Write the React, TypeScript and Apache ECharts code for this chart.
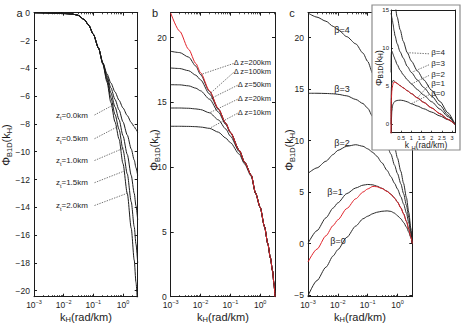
import React, { useEffect, useRef } from 'react';
import * as echarts from 'echarts';

// ---------------- Panel a : z_t family ----------------
const kA = [0.001, 0.002, 0.005, 0.01, 0.02, 0.03, 0.05, 0.07, 0.1, 0.15, 0.21, 0.29, 0.39, 0.54, 0.74, 1.0, 1.4, 1.9, 2.4, 2.75, 3.1416];
const phiZt00 = [0, -0.01, -0.03, -0.06, -0.1, -0.18, -0.5, -0.9, -1.55, -2.55, -3.6, -4.4, -5.05, -5.7, -6.3, -6.85, -7.4, -7.9, -8.2, -8.4, -8.6];
const phiZt05 = [0, -0.01, -0.03, -0.06, -0.1, -0.18, -0.5, -0.9, -1.55, -2.55, -3.62, -4.55, -5.4, -6.24, -7.0, -7.85, -8.8, -9.8, -10.6, -11.15, -11.7];
const phiZt10 = [0, -0.01, -0.03, -0.06, -0.1, -0.18, -0.5, -0.9, -1.55, -2.55, -3.65, -4.7, -5.75, -6.78, -7.7, -8.85, -10.2, -11.7, -13.0, -13.9, -14.9];
const phiZt15 = [0, -0.01, -0.03, -0.06, -0.1, -0.18, -0.5, -0.9, -1.55, -2.55, -3.68, -4.85, -6.1, -7.32, -8.4, -9.85, -11.6, -13.6, -15.4, -16.65, -18.0];
const phiZt20 = [0, -0.01, -0.03, -0.06, -0.1, -0.18, -0.5, -0.9, -1.55, -2.55, -3.7, -5.0, -6.45, -7.86, -9.1, -10.85, -13.0, -15.5, -17.8, -19.4, -21.2];
const ztLabels = ['0.0', '0.5', '1.0', '1.5', '2.0'];
const yTicksA = [0, -2, -4, -6, -8, -10, -12, -14, -16, -18, -20];

// ---------------- Panel b : Δz family ----------------
const kB = [0.001, 0.002, 0.004, 0.007, 0.01, 0.02, 0.04, 0.07, 0.1, 0.2, 0.3, 0.5, 0.7, 1.0, 1.4, 1.8, 2.2, 2.6, 2.9, 3.1416];
const phiRefB = [21.9, 20.5, 19.1, 18.0, 17.3, 15.9, 14.5, 13.4, 12.7, 11.3, 10.4, 9.4, 8.0, 6.9, 5.4, 4.1, 3.0, 2.0, 1.0, 0];
const phiDz200 = [18.95, 18.85, 18.5, 17.8, 17.15, 15.85, 14.5, 13.4, 12.7, 11.3, 10.4, 9.4, 8.0, 6.9, 5.4, 4.1, 3.0, 2.0, 1.0, 0];
const phiDz100 = [17.66, 17.62, 17.45, 17.1, 16.75, 15.65, 14.45, 13.4, 12.7, 11.3, 10.4, 9.4, 8.0, 6.9, 5.4, 4.1, 3.0, 2.0, 1.0, 0];
const phiDz50 = [16.37, 16.36, 16.28, 16.1, 15.9, 15.25, 14.25, 13.3, 12.65, 11.3, 10.4, 9.4, 8.0, 6.9, 5.4, 4.1, 3.0, 2.0, 1.0, 0];
const phiDz20 = [14.57, 14.57, 14.55, 14.5, 14.45, 14.2, 13.65, 12.95, 12.4, 11.2, 10.35, 9.38, 8.0, 6.9, 5.4, 4.1, 3.0, 2.0, 1.0, 0];
const phiDz10 = [13.16, 13.16, 13.15, 13.13, 13.1, 13.0, 12.7, 12.25, 11.9, 11.0, 10.25, 9.3, 7.98, 6.9, 5.4, 4.1, 3.0, 2.0, 1.0, 0];
const dzLabels = ['200', '100', '50', '20', '10'];
const yTicksB = [0, 5, 10, 15, 20];

// ---------------- Panel c : β family ----------------
const kC = [0.001, 0.002, 0.004, 0.007, 0.01, 0.02, 0.04, 0.07, 0.1, 0.15, 0.2, 0.3, 0.45, 0.6, 0.8, 1.0, 1.3, 1.6, 2.0, 2.4, 2.8, 3.1416];
const phiBeta0 = [-5.1, -3.6, -2.3, -1.2, -0.6, 0.6, 1.7, 2.4, 2.65, 2.9, 3.03, 3.13, 3.17, 3.12, 2.95, 2.7, 2.4, 2.05, 1.6, 1.1, 0.6, 0];
const phiBeta1 = [0, 1.25, 2.5, 3.45, 3.95, 4.85, 5.4, 5.67, 5.74, 5.7, 5.58, 5.37, 5.08, 4.8, 4.42, 4.04, 3.47, 2.9, 2.15, 1.4, 0.65, 0];
const phiRefC = [-1.8, -0.55, 0.75, 1.75, 2.3, 3.4, 4.35, 5.0, 5.3, 5.55, 5.52, 5.35, 5.06, 4.78, 4.4, 4.02, 3.45, 2.88, 2.13, 1.38, 0.64, 0];
const phiBeta2 = [6.81, 7.35, 8.0, 8.65, 9.05, 9.45, 9.6, 9.45, 9.2, 8.85, 8.5, 7.85, 7.1, 6.5, 5.85, 5.3, 4.55, 3.85, 2.95, 2.0, 1.0, 0];
const phiBeta3 = [14.6, 14.6, 14.58, 14.55, 14.5, 14.35, 14.0, 13.6, 13.15, 12.3, 11.6, 10.6, 9.5, 8.7, 7.6, 6.8, 5.8, 4.85, 3.7, 2.5, 1.2, 0];
const phiBeta4 = [22.4, 22.0, 21.6, 21.1, 20.8, 20.1, 19.4, 18.5, 17.7, 16.5, 15.6, 14.1, 12.4, 10.9, 9.4, 8.3, 7.0, 5.85, 4.45, 3.0, 1.5, 0];
const betaLabels = ['0', '1', '2', '3', '4'];
const yTicksC = [-5, 0, 5, 10, 15, 20];

// inset ticks
const insetXTicks = [0.5, 1, 1.5, 2, 2.5, 3];
const insetYTicks = [0, 5, 10, 15];

// log axis ticks
const kMajor = [0.001, 0.01, 0.1, 1];
const kMinor = [0.002, 0.003, 0.004, 0.005, 0.006, 0.007, 0.008, 0.009, 0.02, 0.03, 0.04, 0.05, 0.06, 0.07, 0.08, 0.09, 0.2, 0.3, 0.4, 0.5, 0.6, 0.7, 0.8, 0.9, 2, 3];

const FONT = '"Liberation Sans", Arial, Helvetica, sans-serif';
const INK = '#1c1c1c';
const RED = '#e2232b';

const GRIDS = [
  { left: 34, top: 12.7, width: 103.7, height: 284 },
  { left: 170.7, top: 12.7, width: 104.3, height: 284 },
  { left: 308, top: 12.7, width: 104.3, height: 284 },
  { left: 391, top: 10, width: 64, height: 122.7, z: 60 },
];
const YRANGE = [
  [-20.43, 0],
  [0, 21.93],
  [-5.17, 22.43],
];

const minus = (v: number) => (v < 0 ? '\u2212' + Math.abs(v) : String(v));

function logFmt(v: number) {
  const e = Math.round(Math.log10(v));
  return `{b|10}{s|${minus(e)}}`;
}

const logRich = {
  b: { fontSize: 8.5, fontFamily: FONT, color: INK, lineHeight: 11, verticalAlign: 'bottom' },
  s: { fontSize: 5.5, fontFamily: FONT, color: INK, verticalAlign: 'top', lineHeight: 6 },
};

function buildAxes() {
  const xAxis: any[] = [];
  const yAxis: any[] = [];
  const line = { show: true, onZero: false, lineStyle: { color: INK, width: 1 } };
  const noLine = { show: false, onZero: false };
  for (let g = 0; g < 3; g++) {
    const base = { type: 'log', logBase: 10, gridIndex: g, min: 0.001, max: Math.PI, splitLine: { show: false }, minorTick: { show: false } };
    xAxis.push({
      ...base, position: 'bottom', axisLine: line,
      axisTick: { show: true, inside: true, length: 3, customValues: kMajor, lineStyle: { color: INK } },
      axisLabel: { show: true, customValues: kMajor, formatter: logFmt, rich: logRich, margin: 2 },
    });
    xAxis.push({
      ...base, position: 'bottom', axisLine: noLine,
      axisTick: { show: true, inside: true, length: 1.6, customValues: kMinor, lineStyle: { color: INK, width: 0.8 } },
      axisLabel: { show: false },
    });
    xAxis.push({
      ...base, position: 'top', axisLine: line,
      axisTick: { show: true, inside: true, length: 3, customValues: kMajor, lineStyle: { color: INK } },
      axisLabel: { show: false },
    });
    xAxis.push({
      ...base, position: 'top', axisLine: noLine,
      axisTick: { show: true, inside: true, length: 1.6, customValues: kMinor, lineStyle: { color: INK, width: 0.8 } },
      axisLabel: { show: false },
    });
    const yt = [yTicksA, yTicksB, yTicksC][g];
    const yb = { type: 'value', gridIndex: g, min: YRANGE[g][0], max: YRANGE[g][1], splitLine: { show: false } };
    yAxis.push({
      ...yb, position: 'left', axisLine: line,
      axisTick: { show: true, inside: true, length: 3, customValues: yt, lineStyle: { color: INK } },
      axisLabel: { show: true, customValues: yt, formatter: (v: number) => minus(v), fontSize: 8.5, fontFamily: FONT, color: INK, margin: 4 },
    });
    yAxis.push({
      ...yb, position: 'right', axisLine: line,
      axisTick: { show: true, inside: true, length: 3, customValues: yt, lineStyle: { color: INK } },
      axisLabel: { show: false },
    });
  }
  // inset
  const ix = { type: 'value', gridIndex: 3, min: 0, max: Math.PI, splitLine: { show: false }, z: 60 };
  xAxis.push({
    ...ix, position: 'bottom', axisLine: { show: true, onZero: false, lineStyle: { color: INK, width: 1 } },
    axisTick: { show: true, inside: true, length: 2, customValues: insetXTicks, lineStyle: { color: INK, width: 0.8 } },
    axisLabel: { show: true, customValues: insetXTicks, fontSize: 5.5, fontFamily: FONT, color: INK, margin: 2 },
  });
  xAxis.push({
    ...ix, position: 'top', axisLine: { show: true, onZero: false, lineStyle: { color: INK, width: 1 } },
    axisTick: { show: false }, axisLabel: { show: false },
  });
  const iy = { type: 'value', gridIndex: 3, min: -1.1, max: 15, splitLine: { show: false }, z: 60 };
  yAxis.push({
    ...iy, position: 'left', axisLine: { show: true, onZero: false, lineStyle: { color: INK, width: 1 } },
    axisTick: { show: true, inside: true, length: 2, customValues: insetYTicks, lineStyle: { color: INK, width: 0.8 } },
    axisLabel: { show: true, customValues: insetYTicks, fontSize: 6, fontFamily: FONT, color: INK, margin: 2 },
  });
  yAxis.push({
    ...iy, position: 'right', axisLine: { show: true, onZero: false, lineStyle: { color: INK, width: 1 } },
    axisTick: { show: false }, axisLabel: { show: false },
  });
  return { xAxis, yAxis };
}

function ser(xi: number, yi: number, ks: number[], vs: number[], color: string, z = 3) {
  return {
    type: 'line', xAxisIndex: xi, yAxisIndex: yi,
    data: ks.map((k, i) => [k, vs[i]]),
    symbol: 'none', smooth: 0.25, smoothMonotone: 'x', clip: true, silent: true,
    lineStyle: { color, width: 1 }, z,
  };
}

function buildSeries() {
  const s: any[] = [];
  [phiZt00, phiZt05, phiZt10, phiZt15, phiZt20].forEach((v) => s.push(ser(0, 0, kA, v, INK)));
  [phiDz200, phiDz100, phiDz50, phiDz20, phiDz10].forEach((v) => s.push(ser(4, 2, kB, v, '#2a2a2a')));
  s.push(ser(4, 2, kB, phiRefB, RED, 5));
  const betas = [phiBeta0, phiBeta1, phiBeta2, phiBeta3, phiBeta4];
  betas.forEach((v) => s.push(ser(8, 4, kC, v, '#2a2a2a')));
  s.push(ser(8, 4, kC, phiRefC, RED, 5));
  betas.forEach((v) => s.push(ser(12, 6, kC, v, '#2a2a2a', 61)));
  s.push(ser(12, 6, kC, phiRefC, RED, 62));
  return s;
}

const richSub = (size: number) => ({
  n: { fontSize: size, fontFamily: FONT, fill: INK, lineHeight: size + 3 },
  s: { fontSize: Math.round(size * 0.68 * 10) / 10, fontFamily: FONT, fill: INK, verticalAlign: 'bottom' },
});

function txt(x: number, y: number, text: string, size: number, align = 'center', z = 20, extra: any = {}) {
  return {
    type: 'text', x, y, z, silent: true, ...extra,
    style: { text, fontSize: size, fontFamily: FONT, fill: INK, align, verticalAlign: 'middle', rich: richSub(size) },
  };
}

function leader(x1: number, y1: number, x2: number, y2: number, z = 20) {
  return {
    type: 'line', z, silent: true,
    shape: { x1, y1, x2, y2 },
    style: { stroke: '#3a3a3a', lineWidth: 0.7, lineDash: [1.4, 1.2] },
  };
}

function buildGraphics(chart: any) {
  const g: any[] = [];
  // inset frame (covers part of panel c)
  g.push({ type: 'rect', z: 50, silent: true, shape: { x: 372, y: 5, width: 88, height: 145 }, style: { fill: '#ffffff', stroke: '#8c8c8c', lineWidth: 1.2 } });

  // panel letters
  g.push(txt(19.5, 13, 'a', 11));
  g.push(txt(155, 12.5, 'b', 11));
  g.push(txt(292, 12.5, 'c', 11));

  // axis titles
  const yTitle = '{n|\u03A6}{s|B1D}{n|(k}{s|H}{n|)}';
  const xTitle = '{n|k}{s|H}{n|(rad/km)}';
  g.push(txt(6, 145, yTitle, 11, 'center', 20, { rotation: Math.PI / 2 }));
  g.push(txt(154, 150, yTitle, 11, 'center', 20, { rotation: Math.PI / 2 }));
  g.push(txt(289, 150, yTitle, 11, 'center', 20, { rotation: Math.PI / 2 }));
  g.push(txt(86, 316.5, xTitle, 11));
  g.push(txt(223, 316.5, xTitle, 11));
  g.push(txt(360, 316.5, xTitle, 11));
  g.push(txt(378, 68, yTitle, 9.5, 'center', 70, { rotation: Math.PI / 2 }));
  g.push(txt(426, 145, '{n|k }{s|H}{n|(rad/km)}', 8.5, 'center', 70));

  // panel a labels and leaders
  const ztY = [115, 138.7, 160.5, 182.7, 205.5];
  const ztEnd = [[115, 104], [117, 127], [124, 148], [127, 170], [128, 193]];
  ztLabels.forEach((l, i) => {
    g.push(txt(56, ztY[i], `{n|z}{s|t}{n|=${l}km}`, 8, 'left'));
    g.push(leader(94.5, ztY[i], ztEnd[i][0], ztEnd[i][1]));
  });

  // panel b labels and leaders (targets on the curves, via the axes)
  const dzY = [62.5, 71.5, 84.3, 98.3, 112.3];
  const dzCurves = [phiDz200, phiDz100, phiDz50, phiDz20, phiDz10];
  const dzIdx = [4, 5, 5, 5, 5];
  dzLabels.forEach((l, i) => {
    g.push(txt(271, dzY[i], `\u0394 z=${l}km`, 7.5, 'right'));
    const p = chart.convertToPixel({ xAxisIndex: 4, yAxisIndex: 2 }, [kB[dzIdx[i]], dzCurves[i][dzIdx[i]]]);
    const startX = 271 - (l.length === 3 ? 37.5 : 33.5);
    g.push(leader(startX, dzY[i] + 1, p[0], p[1]));
  });

  // panel c labels
  const bPos = [[338, 240.7], [335, 191.7], [342, 142.7], [342, 89.3], [342, 29.7]];
  betaLabels.forEach((l, i) => g.push(txt(bPos[i][0], bPos[i][1], `\u03B2=${l}`, 9)));

  // inset labels and leaders
  const ibY = [93.3, 83.3, 74, 63.3, 52.3];
  const betas = [phiBeta0, phiBeta1, phiBeta2, phiBeta3, phiBeta4];
  const ibIdx = [15, 16, 15, 15, 14];
  betaLabels.forEach((l, i) => {
    g.push(txt(438, ibY[i], `\u03B2=${l}`, 8, 'center', 70));
    const p = chart.convertToPixel({ xAxisIndex: 12, yAxisIndex: 6 }, [kC[ibIdx[i]], betas[i][ibIdx[i]]]);
    g.push(leader(429, ibY[i] + 1.5, p[0], p[1], 70));
  });
  return g;
}

export default function App() {
  const ref = useRef<HTMLDivElement>(null);
  useEffect(() => {
    const chart = echarts.init(ref.current as HTMLDivElement, null, { renderer: 'svg' });
    const { xAxis, yAxis } = buildAxes();
    chart.setOption({
      animation: false,
      backgroundColor: '#ffffff',
      grid: GRIDS.map((g) => ({ ...g, containLabel: false })),
      xAxis,
      yAxis,
      series: buildSeries(),
    });
    chart.setOption({ graphic: { elements: buildGraphics(chart) } });
    return () => chart.dispose();
  }, []);
  return <div ref={ref} style={{ position: 'fixed', left: 0, top: 0, width: 474, height: 326 }} />;
}
